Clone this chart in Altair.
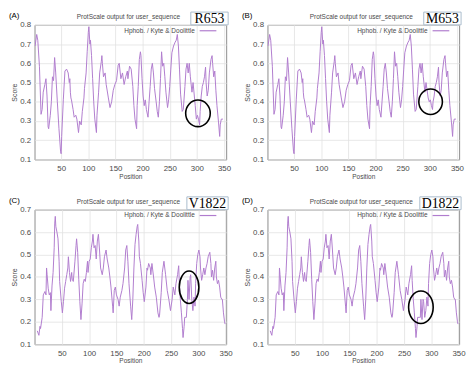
import altair as alt
import pandas as pd

# ---------------- data ----------------
pos_ab = [2, 5, 7, 10, 13, 15, 17, 20, 22, 24,
          26, 27, 30, 32, 34, 36, 38, 40, 43, 46,
          49, 50, 51, 54, 57, 60, 63, 65, 66, 67,
          68, 69, 72, 74, 77, 79, 82, 84, 87, 89,
          92, 93, 96, 98, 100, 101, 103, 104, 106, 108,
          110, 112, 115, 116, 119, 121, 124, 125, 126, 128,
          131, 133, 137, 140, 143, 146, 149, 152, 155, 157,
          160, 163, 166, 169, 172, 173, 176, 179, 182, 184,
          186, 189, 190, 192, 194, 196, 197, 199, 201, 203,
          205, 207, 210, 212, 214, 216, 218, 220, 222, 225,
          227, 229, 231, 233, 235, 237, 239, 241, 243, 246,
          248, 250, 252, 254, 257, 260, 262, 264, 266, 268,
          270, 273, 275, 278, 280, 282, 284, 286, 288, 291,
          293, 296, 297, 299, 301, 303, 305, 306, 308, 310,
          312, 314, 316, 317, 319, 321, 323, 326, 328, 329,
          331, 333, 335, 337, 340, 342, 343, 345, 348]
score_a = [0.69, 0.75, 0.72, 0.585, 0.335, 0.36, 0.45, 0.49, 0.52, 0.43,
           0.27, 0.26, 0.33, 0.40, 0.53, 0.51, 0.63, 0.55, 0.40, 0.26,
           0.14, 0.13, 0.22, 0.41, 0.56, 0.57, 0.55, 0.50, 0.52, 0.45,
           0.42, 0.41, 0.36, 0.32, 0.33, 0.31, 0.24, 0.30, 0.28, 0.35,
           0.42, 0.47, 0.55, 0.66, 0.76, 0.79, 0.70, 0.72, 0.64, 0.52,
           0.40, 0.31, 0.24, 0.33, 0.45, 0.55, 0.61, 0.64, 0.60, 0.53,
           0.55, 0.49, 0.42, 0.37, 0.40, 0.46, 0.49, 0.51, 0.59, 0.60,
           0.52, 0.55, 0.49, 0.53, 0.56, 0.52, 0.585, 0.57, 0.48, 0.38,
           0.31, 0.26, 0.38, 0.48, 0.62, 0.66, 0.64, 0.52, 0.43, 0.38,
           0.41, 0.36, 0.32, 0.40, 0.48, 0.57, 0.60, 0.55, 0.47, 0.40,
           0.35, 0.32, 0.40, 0.52, 0.66, 0.585, 0.60, 0.53, 0.45, 0.37,
           0.41, 0.48, 0.57, 0.655, 0.69, 0.71, 0.72, 0.75, 0.69, 0.57,
           0.44, 0.35, 0.36, 0.48, 0.57, 0.60, 0.55, 0.60, 0.53, 0.45,
           0.50, 0.41, 0.38, 0.31, 0.33, 0.31, 0.28, 0.35, 0.43, 0.48,
           0.50, 0.53, 0.58, 0.50, 0.43, 0.46, 0.55, 0.62, 0.64, 0.60,
           0.53, 0.56, 0.46, 0.38, 0.29, 0.22, 0.28, 0.31, 0.31]
# panel B differs from A only inside the circled window
b_patch_pos = [296, 297, 299, 301, 303, 305, 306]
b_patch_score = [0.44, 0.42, 0.40, 0.41, 0.38, 0.36, 0.40]

pos_cd = [5, 8, 10, 11, 14, 16, 19, 21, 22, 23,
          25, 27, 29, 30, 32, 34, 36, 37, 38, 39,
          41, 43, 45, 46, 49, 51, 53, 55, 57, 59,
          61, 62, 64, 66, 68, 69, 71, 74, 76, 77,
          79, 81, 83, 85, 87, 89, 91, 93, 95, 97,
          98, 100, 102, 104, 106, 107, 109, 111, 113, 115,
          117, 119, 121, 124, 126, 128, 131, 133, 136, 138,
          140, 143, 144, 146, 148, 150, 153, 155, 157, 160,
          162, 165, 167, 169, 171, 173, 176, 178, 180, 182,
          184, 186, 188, 189, 191, 192, 194, 197, 199, 201,
          204, 206, 207, 209, 212, 213, 215, 218, 220, 223,
          226, 228, 229, 232, 234, 237, 240, 243, 246, 249,
          252, 254, 257, 259, 262, 264, 265, 267, 269, 271,
          272, 274, 275, 278, 280, 281, 283, 285, 286, 288,
          290, 292, 294, 295, 297, 299, 301, 303, 304, 306,
          308, 310, 312, 314, 316, 318, 321, 323, 324, 326,
          328, 330, 332, 333, 335, 337, 339, 341, 343, 344,
          346, 348, 349]
score_c = [0.16, 0.14, 0.18, 0.17, 0.22, 0.32, 0.335, 0.32, 0.44, 0.41,
           0.35, 0.32, 0.33, 0.25, 0.36, 0.42, 0.53, 0.64, 0.67, 0.625,
           0.60, 0.57, 0.47, 0.38, 0.29, 0.24, 0.29, 0.35, 0.38, 0.41,
           0.44, 0.49, 0.42, 0.38, 0.42, 0.39, 0.38, 0.47, 0.54, 0.57,
           0.51, 0.39, 0.29, 0.21, 0.28, 0.37, 0.39, 0.38, 0.42, 0.47,
           0.42, 0.47, 0.48, 0.53, 0.56, 0.59, 0.53, 0.54, 0.48, 0.56,
           0.59, 0.52, 0.44, 0.41, 0.44, 0.49, 0.52, 0.48, 0.44, 0.40,
           0.355, 0.27, 0.24, 0.34, 0.355, 0.32, 0.30, 0.27, 0.31, 0.34,
           0.37, 0.44, 0.52, 0.54, 0.47, 0.37, 0.27, 0.21, 0.30, 0.44,
           0.545, 0.59, 0.625, 0.634, 0.56, 0.49, 0.46, 0.385, 0.33, 0.29,
           0.355, 0.44, 0.43, 0.46, 0.44, 0.41, 0.46, 0.40, 0.355, 0.31,
           0.24, 0.22, 0.23, 0.33, 0.42, 0.47, 0.41, 0.34, 0.30, 0.25,
           0.30, 0.355, 0.32, 0.37, 0.41, 0.45, 0.385, 0.30, 0.24, 0.17,
           0.13, 0.18, 0.22, 0.22, 0.30, 0.385, 0.30, 0.40, 0.41, 0.30,
           0.25, 0.31, 0.27, 0.37, 0.46, 0.50, 0.52, 0.49, 0.44, 0.385,
           0.41, 0.44, 0.41, 0.44, 0.46, 0.49, 0.51, 0.46, 0.40, 0.43,
           0.385, 0.44, 0.47, 0.40, 0.37, 0.385, 0.355, 0.31, 0.30, 0.30,
           0.24, 0.20, 0.19]
# panel D differs from C only inside the circled window
d_patch_pos = [280, 281, 283, 285, 286, 288]
d_patch_score = [0.22, 0.30, 0.21, 0.30, 0.29, 0.22]

panel_letters = ["(A)", "(B)", "(C)", "(D)"]
variant_labels = ["R653", "M653", "V1822", "D1822"]
panel_title = "ProtScale output for user_sequence"
legend_label = "Hphob. / Kyte & Doolittle"
x_ticks = [50, 100, 150, 200, 250, 300, 350]
y_ticks_top = [0.1, 0.2, 0.3, 0.4, 0.5, 0.6, 0.7, 0.8]
y_ticks_bottom = [0.1, 0.2, 0.3, 0.4, 0.5, 0.6, 0.7]
circle_pos = [302, 301.5, 283, 281]
circle_score = [0.34, 0.40, 0.354, 0.265]


def patched(pos, score, ppos, pscore):
    repl = dict(zip(ppos, pscore))
    return [repl.get(p, s) for p, s in zip(pos, score)]


score_b = patched(pos_ab, score_a, b_patch_pos, b_patch_score)
score_d = patched(pos_cd, score_c, d_patch_pos, d_patch_score)

# ---------------- styling ----------------
W, H = 195, 137
SANS = "Liberation Sans"
LINE = "#b07cce"
TXT = "#4a4a4a"


def ellipse(w, h):
    s = max(w, h)
    rx, ry = w / s, h / s
    path = (f"M {-rx:.3f},0 A {rx:.3f},{ry:.3f} 0 1,0 {rx:.3f},0 "
            f"A {rx:.3f},{ry:.3f} 0 1,0 {-rx:.3f},0 Z")
    return path, s * s


def one(**kw):
    return alt.Chart(pd.DataFrame({"k": [0], **{k: [v] for k, v in kw.items()}}))


def panel(pos, score, xdom, ydom, yticks, letter, label, cpos, cscore, cw, ch):
    df = pd.DataFrame({"Position": pos, "Score": score})
    x = alt.X("Position:Q",
              scale=alt.Scale(domain=xdom, nice=False, zero=False),
              axis=alt.Axis(values=x_ticks, title="Position", grid=True,
                            ticks=False, domain=False, labelPadding=5,
                            titlePadding=1, labelFontSize=8, titleFontSize=6.6,
                            labelFlush=False, labelColor=TXT, titleColor=TXT,
                            titleFontWeight="normal", labelFont=SANS,
                            titleFont=SANS, gridColor="#e2e2e2",
                            gridWidth=0.8))
    y = alt.Y("Score:Q",
              scale=alt.Scale(domain=ydom, nice=False, zero=False),
              axis=alt.Axis(values=yticks, format=".1f", title="Score",
                            grid=True, ticks=False, domain=False,
                            labelPadding=4, titlePadding=2, labelFontSize=8,
                            titleFontSize=7, labelColor=TXT, titleColor=TXT,
                            titleFontWeight="normal", labelFont=SANS,
                            titleFont=SANS, gridColor="#e2e2e2",
                            gridWidth=0.8, labelFlush=False))
    line = alt.Chart(df).mark_line(color=LINE, strokeWidth=1.0, clip=True,
                                   interpolate="linear").encode(x=x, y=y)
    path, size = ellipse(cw, ch)
    circ = alt.Chart(pd.DataFrame({"Position": [cpos], "Score": [cscore]})
                     ).mark_point(shape=path, size=size, filled=False,
                                  stroke="black", strokeWidth=1.6,
                                  opacity=1).encode(x=x, y=y)
    leg_text = one(t=legend_label).mark_text(
        align="right", baseline="middle", fontSize=6.6, font=SANS, color=TXT
    ).encode(x=alt.value(W - 32), y=alt.value(6), text="t:N")
    leg_rule = one(t=legend_label).mark_rule(color=LINE, strokeWidth=1.2).encode(
        x=alt.value(W - 27), x2=alt.value(W - 10), y=alt.value(6))
    title = one(t=panel_title).mark_text(
        align="center", baseline="middle", fontSize=6.6, font=SANS, color=TXT
    ).encode(x=alt.value(W / 2 - 2), y=alt.value(-8), text="t:N")
    let = one(t=letter).mark_text(
        align="left", baseline="middle", fontSize=8, font=SANS, color="black"
    ).encode(x=alt.value(-26), y=alt.value(-9), text="t:N")
    bw = 42 if len(label) > 4 else 38
    box = one(t=label).mark_rect(fill="white", stroke="#a9bccd",
                                 strokeWidth=1).encode(
        x=alt.value(W + 2 - bw), x2=alt.value(W + 2),
        y=alt.value(-13), y2=alt.value(0))
    box_t = one(t=label).mark_text(
        align="center", baseline="middle", fontSize=14,
        font="Liberation Serif", color="black"
    ).encode(x=alt.value(W + 2 - bw / 2), y=alt.value(-5.5), text="t:N")
    return alt.layer(line, circ, leg_text, leg_rule, title, let, box,
                     box_t).properties(width=W, height=H)


pA = panel(pos_ab, score_a, [1, 354], [0.1, 0.8], y_ticks_top,
           panel_letters[0], variant_labels[0], circle_pos[0],
           circle_score[0], 25, 27)
pB = panel(pos_ab, score_b, [1, 354], [0.1, 0.8], y_ticks_top,
           panel_letters[1], variant_labels[1], circle_pos[1],
           circle_score[1], 24, 26)
pC = panel(pos_cd, score_c, [0, 351], [0.1, 0.7], y_ticks_bottom,
           panel_letters[2], variant_labels[2], circle_pos[2],
           circle_score[2], 20, 33)
pD = panel(pos_cd, score_d, [0, 351], [0.1, 0.7], y_ticks_bottom,
           panel_letters[3], variant_labels[3], circle_pos[3],
           circle_score[3], 25, 33)

chart = alt.concat(pA, pB, pC, pD, columns=2, bounds="flush",
                   spacing={"row": 51, "column": 42}).properties(
    padding=0
).configure_view(stroke="#8c8c8c", strokeWidth=1)

chart.save("out.html", embed_options={"renderer": "svg", "actions": False})
